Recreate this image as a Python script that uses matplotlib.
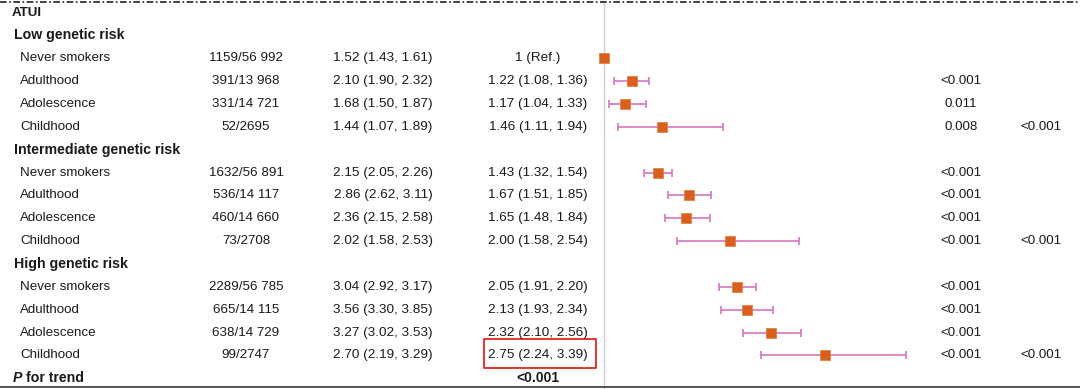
import matplotlib.pyplot as plt
import matplotlib.transforms as mtransforms
from matplotlib.patches import Rectangle

plt.rcParams['font.family'] = ['Liberation Sans', 'DejaVu Sans']

# rows of the table (kind: title / group / item / trend)
labels = ["ATUI", "Low genetic risk", "Never smokers", "Adulthood", "Adolescence", "Childhood",
          "Intermediate genetic risk", "Never smokers", "Adulthood", "Adolescence", "Childhood",
          "High genetic risk", "Never smokers", "Adulthood", "Adolescence", "Childhood", "P for trend"]
kinds = ["title", "group", "item", "item", "item", "item",
         "group", "item", "item", "item", "item",
         "group", "item", "item", "item", "item", "trend"]
cases = ["", "", "1159/56 992", "391/13 968", "331/14 721", "52/2695",
         "", "1632/56 891", "536/14 117", "460/14 660", "73/2708",
         "", "2289/56 785", "665/14 115", "638/14 729", "99/2747", ""]
crude = ["", "", "1.52 (1.43, 1.61)", "2.10 (1.90, 2.32)", "1.68 (1.50, 1.87)", "1.44 (1.07, 1.89)",
         "", "2.15 (2.05, 2.26)", "2.86 (2.62, 3.11)", "2.36 (2.15, 2.58)", "2.02 (1.58, 2.53)",
         "", "3.04 (2.92, 3.17)", "3.56 (3.30, 3.85)", "3.27 (3.02, 3.53)", "2.70 (2.19, 3.29)", ""]
hr = [None, None, 1.00, 1.22, 1.17, 1.46,
      None, 1.43, 1.67, 1.65, 2.00,
      None, 2.05, 2.13, 2.32, 2.75, None]
lo = [None, None, None, 1.08, 1.04, 1.11,
      None, 1.32, 1.51, 1.48, 1.58,
      None, 1.91, 1.93, 2.10, 2.24, None]
hi = [None, None, None, 1.36, 1.33, 1.94,
      None, 1.54, 1.85, 1.84, 2.54,
      None, 2.20, 2.34, 2.56, 3.39, None]
p_val = ["", "", "", "<0.001", "0.011", "0.008",
         "", "<0.001", "<0.001", "<0.001", "<0.001",
         "", "<0.001", "<0.001", "<0.001", "<0.001", ""]
p_inter = ["", "", "", "", "", "<0.001",
           "", "", "", "", "<0.001",
           "", "", "", "", "<0.001", ""]
p_trend = "<0.001"

W, H = 1080, 389
fig = plt.figure(figsize=(W / 100, H / 100), dpi=100)
ax = fig.add_axes([0, 0, 1, 1])
ax.axis("off")

# HR=1 sits at x=604 px, ~126.3 px per unit
ppu = 126.3
ax.set_xlim(1 - 604 / ppu, 1 + (W - 604) / ppu)
row0, dy = 12.6, 22.85
ax.set_ylim((H - row0) / dy, -row0 / dy)

# x in pixels (figure fraction), y in row units
tr = mtransforms.blended_transform_factory(fig.transFigure, ax.transData)
fs = 9.6
tc = "#1a1a1a"

for i, lab in enumerate(labels):
    k = kinds[i]
    if k == "title":
        ax.text(12 / W, i, lab, transform=tr, fontsize=fs, fontweight="bold", va="center", color=tc)
    elif k == "group":
        ax.text(14 / W, i, lab, transform=tr, fontsize=fs + 0.6, fontweight="bold", va="center", color=tc)
    elif k == "trend":
        ax.text(13 / W, i, "P", transform=tr, fontsize=fs + 0.6, fontweight="bold", fontstyle="italic",
                va="center", color=tc)
        ax.text(26 / W, i, "for trend", transform=tr, fontsize=fs + 0.6, fontweight="bold",
                va="center", color=tc)
        ax.text(538 / W, i, p_trend, transform=tr, fontsize=fs + 0.4, fontweight="bold",
                ha="center", va="center", color=tc)
    else:
        ax.text(20 / W, i, lab, transform=tr, fontsize=fs, va="center", color=tc)
    if cases[i]:
        ax.text(246 / W, i, cases[i], transform=tr, fontsize=fs, ha="center", va="center", color=tc)
    if crude[i]:
        ax.text(383 / W, i, crude[i], transform=tr, fontsize=fs + 0.1, ha="center", va="center", color=tc)
    if hr[i] is not None:
        adj = "1 (Ref.)" if lo[i] is None else f"{hr[i]:.2f} ({lo[i]:.2f}, {hi[i]:.2f})"
        ax.text(538 / W, i, adj, transform=tr, fontsize=fs + 0.1, ha="center", va="center", color=tc)
    if p_val[i]:
        ax.text(961 / W, i, p_val[i], transform=tr, fontsize=fs, ha="center", va="center", color=tc)
    if p_inter[i]:
        ax.text(1041 / W, i, p_inter[i], transform=tr, fontsize=fs, ha="center", va="center", color=tc)

# forest marks
for i in range(len(labels)):
    if hr[i] is None:
        continue
    if lo[i] is not None:
        ax.errorbar(hr[i], i, xerr=[[hr[i] - lo[i]], [hi[i] - hr[i]]], fmt="none",
                    ecolor="#d77fc4", elinewidth=1.3, capsize=3, capthick=1.3, zorder=3)
    ax.plot(hr[i], i, marker="s", markersize=6.5, color="#d9601c", mec="#e07a3c",
            mew=0.5, zorder=4, linestyle="none")

# reference line at HR = 1
ax.plot([1, 1], [-0.5, 16.45], color="#cfcfcf", lw=1.0, zorder=1)

# top dash-dot rule and bottom rule
ax.plot([0, 1], [1 - 2 / H, 1 - 2 / H], transform=fig.transFigure, color="#222222", lw=1.2,
        linestyle=(0, (4, 1.5, 1, 1.5)))
ax.plot([0, 1], [1 - 387 / H, 1 - 387 / H], transform=fig.transFigure, color="#555555", lw=1.4)

# red highlight box around the childhood / high risk HR
ax.add_patch(Rectangle((484 / W, 1 - 368 / H), 112 / W, 29 / H, transform=fig.transFigure,
                       fill=False, edgecolor="#e8231c", lw=1.3, joinstyle="round"))

fig.savefig("out.png", dpi=100)
